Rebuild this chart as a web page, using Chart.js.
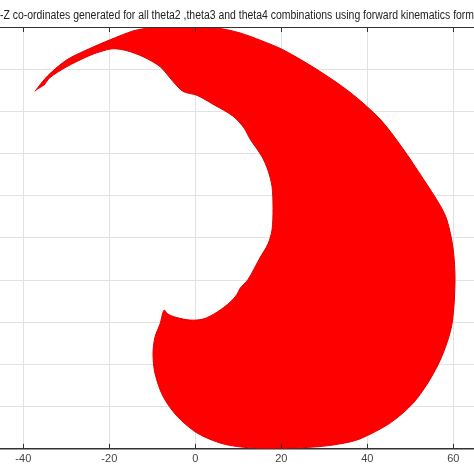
<!DOCTYPE html>
<html>
<head>
<meta charset="utf-8">
<script src="https://cdn.jsdelivr.net/npm/chart.js@4"></script>
<style>
html,body{margin:0;padding:0;background:#ffffff;overflow:hidden;}
#wrap{width:474px;height:474px;position:relative;overflow:hidden;}
#inner{position:absolute;left:-7px;top:0;width:495px;height:474px;}
</style>
</head>
<body>
<div id="wrap"><div id="inner"><canvas id="c"></canvas></div></div>
<script>
const titleText = 'X-Z co-ordinates generated for all theta2 ,theta3 and theta4 combinations using forward kinematics formula';
const xTicks = [-40, -20, 0, 20, 40, 60];
const yTicks = [-50, -40, -30, -20, -10, 0, 10, 20, 30, 40, 50];

// Boundary of the reachable X-Z region (outer edge, then inner edge)
const boundaryX = [
  -37.28, -35.88, -33.79, -29.84, -25.19, -19.84, -14.49, -10.53, -4.72, 1.09,
  5.74, 10.40, 15.51, 20.40, 28.30, 35.98, 42.95, 48.30, 52.95, 56.91,
  58.53, 59.93, 60.40, 59.70, 57.60, 54.58, 50.63, 45.28, 38.30, 33.65,
  28.30, 20.40, 12.72, 6.44, 0.40, -4.26, -7.51, -9.37, -9.84, -9.37,
  -8.21, -7.28,
  -6.35, -4.26, -1.23, 1.79, 5.05, 8.07, 9.70, 10.40, 12.26, 15.05,
  16.91, 17.84, 18.07, 17.84, 16.91, 15.51, 12.72, 11.33, 8.77, 4.12,
  0.40, -2.86, -5.19, -8.21, -12.16, -15.88, -19.14, -22.16, -25.19, -29.84,
  -33.79, -35.19
];
const boundaryY = [
  34.74, 36.62, 38.97, 42.25, 44.60, 46.95, 49.06, 49.77, 49.90, 49.90,
  49.65, 48.59, 46.71, 44.60, 39.91, 34.51, 28.17, 21.13, 14.08, 7.75,
  4.23, -2.35, -10.09, -20.42, -27.46, -33.57, -39.20, -43.90, -47.65, -48.83,
  -49.53, -49.88, -49.77, -48.83, -46.24, -42.25, -37.56, -32.16, -27.46, -23.47,
  -20.42, -17.14,
  -18.08, -18.90, -19.48, -19.25, -17.61, -15.26, -13.38, -11.97, -9.86, -4.69,
  -1.41, 1.88, 7.04, 12.21, 15.96, 19.25, 23.47, 26.06, 28.87, 31.69,
  33.80, 34.74, 37.09, 40.61, 42.96, 44.37, 44.84, 44.13, 42.96, 40.61,
  38.03, 36.15
];

const points = boundaryX.map((x, i) => ({x: x, y: boundaryY[i]}));

const FONT = '"Liberation Sans", Arial, Helvetica, sans-serif';

const boxPlugin = {
  id: 'boxPlugin',
  afterDraw(chart) {
    const ctx = chart.ctx;
    const a = chart.chartArea;
    const xs = chart.scales.x;
    ctx.save();
    ctx.strokeStyle = '#333333';
    ctx.lineWidth = 1;
    ctx.beginPath();
    ctx.moveTo(a.left, a.top + 0.5);
    ctx.lineTo(a.right, a.top + 0.5);
    xTicks.forEach(v => {
      const px = Math.round(xs.getPixelForValue(v)) + 0.5;
      ctx.moveTo(px, a.top);
      ctx.lineTo(px, a.top + 5);
      ctx.moveTo(px, a.bottom);
      ctx.lineTo(px, a.bottom - 5);
    });
    ctx.stroke();
    ctx.restore();
  }
};

new Chart(document.getElementById('c'), {
  type: 'scatter',
  data: {
    datasets: [{
      data: points,
      showLine: true,
      fill: 'shape',
      backgroundColor: '#ff0000',
      borderColor: '#e00000',
      borderWidth: 1,
      pointRadius: 0,
      pointHoverRadius: 0,
      tension: 0.3
    }]
  },
  options: {
    responsive: true,
    maintainAspectRatio: false,
    animation: false,
    layout: {padding: {left: 0, right: 0, top: 0, bottom: 4}},
    plugins: {
      legend: {display: false},
      tooltip: {enabled: false},
      title: {
        display: true,
        text: titleText,
        color: '#222222',
        font: {family: FONT, size: 12, weight: 'normal', lineHeight: 1},
        padding: {top: 10, bottom: 5}
      }
    },
    scales: {
      x: {
        type: 'linear',
        min: -47.05,
        max: 68.07,
        afterBuildTicks: s => { s.ticks = xTicks.map(v => ({value: v})); },
        grid: {color: '#e2e2e2', lineWidth: 1, drawTicks: false},
        border: {display: true, color: '#333333', width: 1.5},
        ticks: {padding: 4, color: '#444444', font: {family: FONT, size: 11}, maxRotation: 0, autoSkip: false}
      },
      y: {
        type: 'linear',
        min: -50,
        max: 50,
        afterBuildTicks: s => { s.ticks = yTicks.map(v => ({value: v})); },
        grid: {color: '#e2e2e2', lineWidth: 1, drawTicks: false},
        border: {display: false},
        ticks: {display: false}
      }
    }
  },
  plugins: [boxPlugin]
});
</script>
</body>
</html>
